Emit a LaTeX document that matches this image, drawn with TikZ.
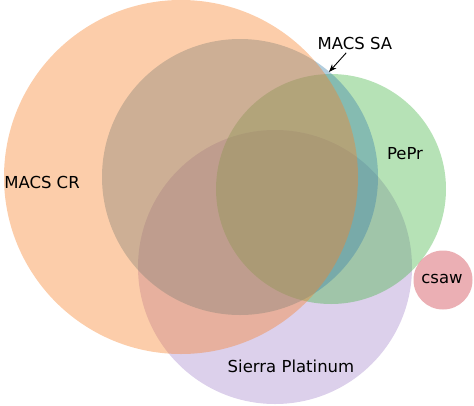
\documentclass[tikz,border=0pt]{standalone}
\usepackage{fontspec}
\setmainfont{DejaVu Sans}
\usepackage{tikz}
\usepackage{xcolor}
\usetikzlibrary{arrows.meta}
\definecolor{crorange}{RGB}{247,130,42}
\definecolor{sablue}{RGB}{60,130,170}
\definecolor{peprgreen}{RGB}{72,182,72}
\definecolor{sierrapurple}{RGB}{167,137,205}
\definecolor{csawred}{RGB}{205,55,67}

\begin{document}
\begin{tikzpicture}[x=1pt,y=-1pt,every node/.style={font=\fontsize{16.5}{19}\selectfont},set/.style={fill opacity=0.4}]
\useasboundingbox (0,0) rectangle (474,405);
\fill[sierrapurple,set] (275,267) circle[radius=137];
\fill[peprgreen,set] (331,189) circle[radius=115];
\fill[sablue,set] (240,177) circle[radius=138];
\fill[crorange,set] (181,177) circle[radius=177];
\fill[csawred,set] (443,280) circle[radius=29.5];
\node (cr) at (42,182) {MACS CR};
\node (sa) at (355,43) {MACS SA};
\node (pepr) at (405,154) {PePr};
\node (sierra) at (291,366) {Sierra Platinum};
\node (csaw) at (442,279) {csaw};
\coordinate (satip) at (329,72);
\draw[-{Stealth[length=8pt,width=6pt]},line width=0.9pt] (sa) -- (satip);
\end{tikzpicture}
\end{document}
